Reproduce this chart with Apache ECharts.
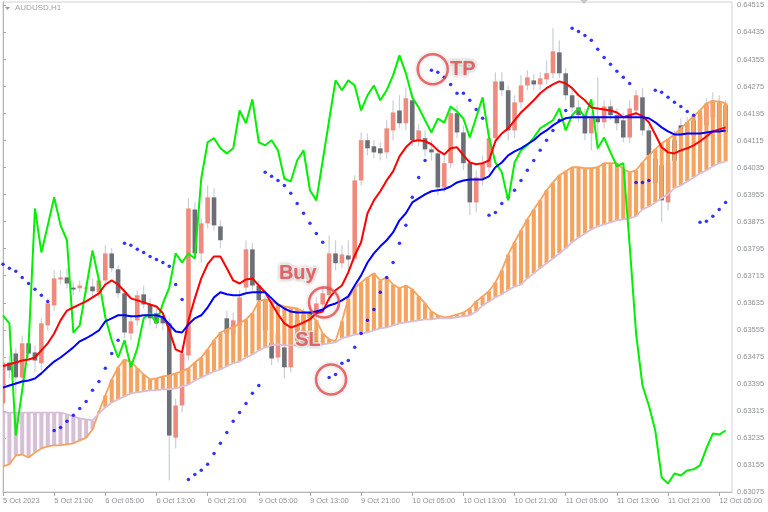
<!DOCTYPE html>
<html><head><meta charset="utf-8">
<script src="https://cdn.jsdelivr.net/npm/echarts@6/dist/echarts.min.js"></script>
<style>html,body{margin:0;padding:0;background:#fff}#c{width:768px;height:512px}</style>
</head><body><div id="c"></div>
<script>
const tickLabels = ['5 Oct 2023','5 Oct 21:00','6 Oct 05:00','6 Oct 13:00','6 Oct 21:00','9 Oct 05:00','9 Oct 13:00','9 Oct 21:00','10 Oct 05:00','10 Oct 13:00','10 Oct 21:00','11 Oct 05:00','11 Oct 13:00','11 Oct 21:00','12 Oct 05:00'];
const tickBars = [0,8,16,24,32,40,48,56,64,72,80,88,96,104,112];
const priceTicks = [0.63075,0.63155,0.63235,0.63315,0.63395,0.63475,0.63555,0.63635,0.63715,0.63795,0.63875,0.63955,0.64035,0.64115,0.64195,0.64275,0.64355,0.64435,0.64515];

const open = [0.63337,0.63458,0.63485,0.63414,0.63515,0.63488,0.63456,0.63568,0.63627,0.63704,
0.63710,0.63680,0.63678,0.63678,0.63683,0.63666,0.63701,0.63781,0.63734,0.63663,
0.63544,0.63583,0.63660,0.63630,0.63604,0.63592,0.63574,0.63236,0.63331,0.63479,
0.63911,0.63781,0.63870,0.63947,0.63861,0.63589,0.63538,0.63568,0.63680,0.63793,
0.63686,0.63642,0.63515,0.63473,0.63503,0.63444,0.63583,0.63568,0.63606,0.63606,
0.63630,0.63657,0.63781,0.63752,0.63775,0.63766,0.63997,0.64116,0.64098,0.64092,
0.64080,0.64145,0.64204,0.64166,0.64234,0.64116,0.64122,0.64089,0.64077,0.63976,
0.64048,0.64196,0.64139,0.64048,0.63932,0.64003,0.64036,0.64122,0.64290,0.64264,
0.64145,0.64228,0.64278,0.64293,0.64281,0.64296,0.64314,0.64376,0.64314,0.64249,
0.64213,0.64190,0.64136,0.64181,0.64169,0.64216,0.64190,0.64175,0.64124,0.64204,
0.64243,0.64145,0.64062,0.64042,0.63932,0.64116,0.64160,0.64130,0.64175,0.64145,
0.64160,0.64184,0.64225,0.64219];
const close = [0.63458,0.63435,0.63414,0.63515,0.63485,0.63464,0.63574,0.63633,0.63707,0.63710,
0.63692,0.63674,0.63686,0.63680,0.63669,0.63701,0.63781,0.63737,0.63663,0.63547,
0.63580,0.63657,0.63630,0.63589,0.63574,0.63574,0.63242,0.63331,0.63485,0.63914,
0.63781,0.63870,0.63947,0.63864,0.63820,0.63544,0.63583,0.63651,0.63793,0.63686,
0.63642,0.63553,0.63470,0.63544,0.63444,0.63562,0.63553,0.63598,0.63589,0.63633,
0.63663,0.63781,0.63752,0.63778,0.63763,0.63997,0.64116,0.64092,0.64080,0.64077,
0.64151,0.64198,0.64166,0.64240,0.64116,0.64145,0.64089,0.64080,0.63976,0.64048,
0.64196,0.64139,0.64048,0.63932,0.64006,0.64048,0.64122,0.64290,0.64264,0.64145,
0.64228,0.64278,0.64302,0.64281,0.64299,0.64314,0.64379,0.64314,0.64249,0.64213,
0.64190,0.64136,0.64181,0.64169,0.64216,0.64190,0.64166,0.64124,0.64210,0.64249,
0.64145,0.64071,0.63988,0.63938,0.64050,0.64056,0.64130,0.64169,0.64130,0.64190,
0.64219,0.64234,0.64145,0.64139];
const high = [0.63479,0.63479,0.63500,0.63538,0.63530,0.63509,0.63589,0.63648,0.63731,0.63731,
0.63737,0.63695,0.63701,0.63695,0.63707,0.63725,0.63805,0.63796,0.63746,0.63678,
0.63598,0.63672,0.63686,0.63648,0.63618,0.63606,0.63589,0.63352,0.63509,0.63944,
0.63932,0.63885,0.63982,0.63974,0.63879,0.63612,0.63606,0.63672,0.63820,0.63811,
0.63701,0.63657,0.63538,0.63568,0.63524,0.63583,0.63606,0.63618,0.63627,0.63651,
0.63683,0.63834,0.63820,0.63805,0.63820,0.64012,0.64139,0.64136,0.64116,0.64110,
0.64175,0.64234,0.64249,0.64270,0.64258,0.64163,0.64145,0.64116,0.64098,0.64071,
0.64219,0.64219,0.64160,0.64062,0.64027,0.64071,0.64151,0.64317,0.64317,0.64278,
0.64249,0.64308,0.64323,0.64311,0.64317,0.64352,0.64447,0.64412,0.64329,0.64270,
0.64234,0.64210,0.64198,0.64302,0.64234,0.64234,0.64210,0.64198,0.64234,0.64264,
0.64270,0.64160,0.64086,0.64071,0.64071,0.64145,0.64181,0.64184,0.64190,0.64210,
0.64240,0.64258,0.64249,0.64234];
const low = [0.63316,0.63411,0.63361,0.63399,0.63470,0.63429,0.63435,0.63553,0.63612,0.63689,
0.63678,0.63657,0.63666,0.63663,0.63651,0.63648,0.63686,0.63725,0.63648,0.63530,
0.63524,0.63568,0.63618,0.63568,0.63559,0.63553,0.63109,0.63204,0.63310,0.63464,
0.63766,0.63754,0.63855,0.63849,0.63796,0.63524,0.63509,0.63553,0.63666,0.63672,
0.63598,0.63524,0.63450,0.63458,0.63411,0.63429,0.63535,0.63553,0.63571,0.63589,
0.63612,0.63642,0.63731,0.63737,0.63731,0.63754,0.63982,0.64071,0.64062,0.64056,
0.64062,0.64116,0.64151,0.64145,0.64098,0.64098,0.64068,0.64056,0.63953,0.63962,
0.64033,0.64122,0.64027,0.63894,0.63902,0.63982,0.64021,0.64110,0.64246,0.64116,
0.64122,0.64210,0.64264,0.64264,0.64264,0.64281,0.64299,0.64299,0.64234,0.64198,
0.64169,0.64116,0.64086,0.64086,0.64151,0.64175,0.64145,0.64110,0.64107,0.64181,
0.64130,0.64056,0.63968,0.63873,0.63908,0.64042,0.64086,0.64116,0.64116,0.64130,
0.64145,0.64175,0.64130,0.64116];

const spanA = [0.63151,0.63157,0.63183,0.63186,0.63177,0.63192,0.63204,0.63210,0.63213,0.63213,
0.63216,0.63219,0.63228,0.63236,0.63260,0.63313,0.63361,0.63408,0.63444,0.63467,
0.63461,0.63441,0.63423,0.63408,0.63411,0.63417,0.63420,0.63426,0.63432,0.63441,
0.63458,0.63473,0.63497,0.63524,0.63547,0.63556,0.63562,0.63574,0.63586,0.63604,
0.63639,0.63645,0.63639,0.63630,0.63624,0.63621,0.63618,0.63609,0.63598,0.63583,
0.63544,0.63527,0.63521,0.63580,0.63648,0.63678,0.63695,0.63710,0.63722,0.63701,
0.63710,0.63689,0.63678,0.63686,0.63675,0.63654,0.63633,0.63609,0.63598,0.63592,
0.63595,0.63601,0.63606,0.63618,0.63639,0.63654,0.63669,0.63695,0.63731,0.63778,
0.63814,0.63849,0.63882,0.63911,0.63938,0.63968,0.63991,0.64012,0.64024,0.64036,
0.64036,0.64033,0.64033,0.64036,0.64048,0.64048,0.64048,0.64030,0.64021,0.64027,
0.64050,0.64071,0.64089,0.64107,0.64119,0.64133,0.64151,0.64169,0.64187,0.64204,
0.64225,0.64231,0.64231,0.64225];
const spanB = [0.63310,0.63310,0.63310,0.63310,0.63310,0.63310,0.63310,0.63310,0.63310,0.63310,
0.63305,0.63299,0.63293,0.63290,0.63287,0.63308,0.63325,0.63340,0.63349,0.63358,
0.63367,0.63370,0.63373,0.63376,0.63376,0.63379,0.63379,0.63382,0.63387,0.63393,
0.63405,0.63414,0.63423,0.63432,0.63438,0.63447,0.63456,0.63461,0.63473,0.63482,
0.63494,0.63503,0.63509,0.63512,0.63509,0.63509,0.63509,0.63509,0.63512,0.63512,
0.63512,0.63515,0.63518,0.63530,0.63535,0.63541,0.63544,0.63547,0.63553,0.63559,
0.63562,0.63568,0.63574,0.63577,0.63580,0.63583,0.63586,0.63586,0.63589,0.63589,
0.63589,0.63592,0.63595,0.63598,0.63609,0.63627,0.63639,0.63651,0.63660,0.63672,
0.63683,0.63689,0.63707,0.63722,0.63737,0.63752,0.63766,0.63781,0.63796,0.63814,
0.63828,0.63840,0.63852,0.63861,0.63867,0.63873,0.63879,0.63882,0.63885,0.63891,
0.63911,0.63920,0.63932,0.63944,0.63956,0.63974,0.63982,0.63994,0.64006,0.64018,
0.64027,0.64039,0.64048,0.64053];

const maFast = [0.63447,0.63453,0.63458,0.63464,0.63467,0.63473,0.63494,0.63515,0.63544,0.63583,
0.63612,0.63621,0.63630,0.63639,0.63651,0.63663,0.63689,0.63701,0.63689,0.63669,
0.63648,0.63642,0.63636,0.63630,0.63624,0.63604,0.63553,0.63497,0.63488,0.63583,
0.63648,0.63707,0.63749,0.63772,0.63772,0.63737,0.63701,0.63692,0.63704,0.63707,
0.63686,0.63666,0.63633,0.63601,0.63574,0.63562,0.63568,0.63577,0.63586,0.63604,
0.63609,0.63648,0.63672,0.63686,0.63725,0.63775,0.63814,0.63900,0.63938,0.63965,
0.63997,0.64024,0.64068,0.64095,0.64113,0.64116,0.64113,0.64104,0.64086,0.64074,
0.64092,0.64095,0.64071,0.64050,0.64045,0.64048,0.64056,0.64113,0.64136,0.64151,
0.64175,0.64198,0.64216,0.64234,0.64255,0.64270,0.64281,0.64290,0.64284,0.64270,
0.64249,0.64234,0.64213,0.64210,0.64207,0.64204,0.64198,0.64184,0.64190,0.64196,
0.64187,0.64169,0.64133,0.64095,0.64080,0.64077,0.64086,0.64092,0.64101,0.64113,
0.64127,0.64142,0.64148,0.64154];
const maSlow = [0.63384,0.63390,0.63396,0.63402,0.63405,0.63411,0.63426,0.63444,0.63461,0.63473,
0.63488,0.63503,0.63521,0.63530,0.63541,0.63553,0.63580,0.63589,0.63598,0.63598,
0.63595,0.63595,0.63598,0.63598,0.63598,0.63592,0.63571,0.63550,0.63547,0.63571,
0.63589,0.63598,0.63621,0.63651,0.63666,0.63660,0.63657,0.63657,0.63663,0.63666,
0.63666,0.63666,0.63648,0.63630,0.63618,0.63609,0.63606,0.63606,0.63606,0.63609,
0.63615,0.63627,0.63633,0.63642,0.63654,0.63686,0.63716,0.63754,0.63781,0.63802,
0.63820,0.63843,0.63879,0.63900,0.63932,0.63944,0.63956,0.63965,0.63968,0.63971,
0.63979,0.63991,0.63997,0.64000,0.64000,0.64000,0.64009,0.64036,0.64050,0.64071,
0.64083,0.64092,0.64104,0.64116,0.64133,0.64145,0.64160,0.64172,0.64181,0.64184,
0.64184,0.64184,0.64184,0.64184,0.64184,0.64184,0.64184,0.64184,0.64184,0.64184,
0.64184,0.64181,0.64169,0.64154,0.64142,0.64133,0.64133,0.64136,0.64136,0.64136,
0.64139,0.64142,0.64142,0.64145];
const lagLine = [0.63598,0.63574,0.63242,0.63376,0.63509,0.63914,0.63784,0.63864,0.63947,0.63864,
0.63820,0.63547,0.63568,0.63678,0.63790,0.63701,0.63592,0.63524,0.63473,0.63524,
0.63444,0.63500,0.63589,0.63604,0.63574,0.63633,0.63680,0.63781,0.63754,0.63781,
0.63766,0.64002,0.64110,0.64122,0.64092,0.64077,0.64092,0.64204,0.64166,0.64237,
0.64110,0.64101,0.64116,0.64086,0.64002,0.63994,0.64056,0.64086,0.63968,0.63938,
0.64056,0.64175,0.64293,0.64264,0.64293,0.64278,0.64204,0.64249,0.64278,0.64234,
0.64264,0.64308,0.64367,0.64314,0.64243,0.64213,0.64175,0.64139,0.64180,0.64168,
0.64216,0.64201,0.64180,0.64124,0.64184,0.64243,0.64124,0.64050,0.64021,0.63938,
0.64050,0.64086,0.64101,0.64124,0.64151,0.64163,0.64175,0.64210,0.64145,0.64190,
0.64210,0.64184,0.64237,0.64092,0.64124,0.64080,0.64039,0.64048,0.63805,0.63544,
0.63390,0.63331,0.63257,0.63118,0.63100,0.63130,0.63124,0.63139,0.63142,0.63154,
0.63204,0.63248,0.63245,0.63257];
const sar = [0.63749,0.63737,0.63728,0.63710,0.63692,0.63675,0.63657,0.63639,0.63257,0.63266,
0.63284,0.63302,0.63322,0.63343,0.63376,0.63402,0.63441,0.63485,0.63524,0.63811,
0.63805,0.63793,0.63784,0.63772,0.63763,0.63754,0.63743,0.63689,0.63645,0.63112,
0.63127,0.63139,0.63157,0.63189,0.63219,0.63251,0.63284,0.63310,0.63337,0.63367,
0.63390,0.64021,0.64009,0.63997,0.63982,0.63959,0.63929,0.63900,0.63870,0.63840,
0.63814,0.63414,0.63423,0.63456,0.63464,0.63503,0.63544,0.63583,0.63615,0.63666,
0.63710,0.63754,0.63811,0.63864,0.63947,0.64006,0.64056,0.64323,0.64317,0.64302,
0.64281,0.64255,0.64255,0.64234,0.64207,0.64181,0.63894,0.63902,0.63929,0.63947,
0.63968,0.63997,0.64027,0.64056,0.64086,0.64116,0.64145,0.64175,0.64204,0.64447,
0.64438,0.64426,0.64412,0.64385,0.64361,0.64341,0.64320,0.64302,0.64284,0.63991,
0.63991,0.63997,0.64264,0.64258,0.64243,0.64228,0.64216,0.64201,0.64190,0.63873,
0.63876,0.63891,0.63911,0.63932];

const noteCircles = [[67.2, 0.64326], [50.2, 0.63636], [51.3, 0.63408]];
const noteTexts = [[71.9, 0.64326, 'TP'], [46.1, 0.63722, 'Buy'], [47.7, 0.63524, 'SL']];

const BULL = '#F08A7C', BEAR = '#6C7076', WICK = '#C9CED8';
const ORANGE = '#F4A460', THISTLE = '#D8BFD8';

const candleData = open.map((o, i) => [i, o, close[i], low[i], high[i]]);
const cloudData = spanA.map((a, i) => [i, a, spanB[i]]);
const idx = arr => arr.map((v, i) => [i, v]);

const chart = echarts.init(document.getElementById('c'));
chart.setOption({
  animation: false,
  backgroundColor: '#ffffff',
  grid: { left: 3, right: 36, top: 2, bottom: 20, show: true, borderColor: '#d2d2d2', borderWidth: 1, backgroundColor: '#fff' },
  xAxis: {
    type: 'value', min: 0, max: 114,
    axisLine: { show: true, onZero: false, lineStyle: { color: '#b8b8b8', width: 1 } },
    axisTick: { show: true, length: 4, customValues: tickBars, lineStyle: { color: '#a8a8a8' } },
    axisLabel: { customValues: tickBars, align: 'left', margin: 5, color: '#8e9297', fontSize: 7.5, fontFamily: 'Liberation Sans',
      formatter: v => { const k = tickBars.indexOf(Math.round(v)); return k >= 0 ? tickLabels[k] : ''; } },
    splitLine: { show: false }
  },
  yAxis: {
    type: 'value', position: 'right', min: 0.63075, max: 0.64525, scale: true,
    axisLine: { show: true, lineStyle: { color: '#b8b8b8', width: 1 } },
    axisTick: { show: true, length: 3, customValues: priceTicks, lineStyle: { color: '#a8a8a8' } },
    axisLabel: { customValues: priceTicks, margin: 5, color: '#8e9297', fontSize: 7.5, fontFamily: 'Liberation Sans',
      formatter: v => v.toFixed(5) },
    splitLine: { show: false }
  },
  graphic: [
    { type: 'polygon', shape: { points: [[5, 7], [10, 7], [7.5, 10]] }, style: { fill: '#9a9a9a' }, z: 10 },
    { type: 'text', x: 15, y: 4, style: { text: 'AUDUSD,H1', fill: '#a2a2a2', font: '8px Liberation Sans' }, z: 10 },
    { type: 'polygon', shape: { points: [[580, 0], [588, 0], [584, 4]] }, style: { fill: '#c8c8c8' }, z: 10 }
  ],
  series: [
    {
      name: 'candles', type: 'custom', clip: true, z: 2, data: candleData,
      renderItem: (params, api) => {
        const x = api.value(0), o = api.value(1), c = api.value(2), l = api.value(3), h = api.value(4);
        const pO = api.coord([x, o]), pC = api.coord([x, c]), pL = api.coord([x, l]), pH = api.coord([x, h]);
        const w = api.size([1, 0])[0] * 0.72;
        const top = Math.min(pO[1], pC[1]);
        const hgt = Math.max(1.2, Math.abs(pO[1] - pC[1]));
        return { type: 'group', children: [
          { type: 'line', shape: { x1: pH[0], y1: pH[1], x2: pL[0], y2: pL[1] }, style: { stroke: WICK, lineWidth: 1.2 } },
          { type: 'rect', shape: { x: pO[0] - w / 2, y: top, width: w, height: hgt }, style: { fill: c >= o ? BULL : BEAR } }
        ] };
      }
    },
    {
      name: 'cloud', type: 'custom', clip: true, z: 3, data: cloudData,
      renderItem: (params, api) => {
        const x = api.value(0), a = api.value(1), b = api.value(2);
        const pA = api.coord([x, a]), pB = api.coord([x, b]);
        const w = api.size([1, 0])[0] * 0.64;
        return { type: 'rect', shape: { x: pA[0] - w / 2, y: Math.min(pA[1], pB[1]), width: w, height: Math.abs(pA[1] - pB[1]) },
          style: { fill: a >= b ? ORANGE : THISTLE } };
      }
    },
    { name: 'spanA', type: 'line', z: 3, data: idx(spanA), showSymbol: false, lineStyle: { color: ORANGE, width: 1.8 } },
    { name: 'spanB', type: 'line', z: 3, data: idx(spanB), showSymbol: false, lineStyle: { color: THISTLE, width: 1.8 } },
    { name: 'sar', type: 'scatter', z: 4, data: idx(sar), symbol: 'circle', symbolSize: 3.5, itemStyle: { color: '#0000FF' } },
    { name: 'lag', type: 'line', z: 5, data: idx(lagLine), showSymbol: false, lineStyle: { color: '#00F000', width: 2 } },
    { name: 'fast', type: 'line', z: 5, data: idx(maFast), showSymbol: false, lineStyle: { color: '#FF0000', width: 2 } },
    { name: 'slow', type: 'line', z: 5, data: idx(maSlow), showSymbol: false, lineStyle: { color: '#0000FF', width: 2 } },
    { name: 'circles', type: 'scatter', z: 6, data: noteCircles, symbol: 'circle', symbolSize: 30,
      itemStyle: { color: 'rgba(255,255,255,0)', borderColor: '#E8494B', borderWidth: 2.5, shadowColor: 'rgba(0,0,0,0.25)', shadowBlur: 4 } },
    { name: 'notes', type: 'scatter', z: 7, data: noteTexts, symbolSize: 1, itemStyle: { color: 'rgba(0,0,0,0)' },
      label: { show: true, position: 'inside', formatter: p => p.data[2], color: '#E8494B', fontSize: 20, fontWeight: 'bold',
        fontFamily: 'Liberation Sans', textBorderColor: '#ffffff', textBorderWidth: 3, textShadowColor: 'rgba(0,0,0,0.3)', textShadowBlur: 3 } }
  ]
});
</script>
</body></html>
